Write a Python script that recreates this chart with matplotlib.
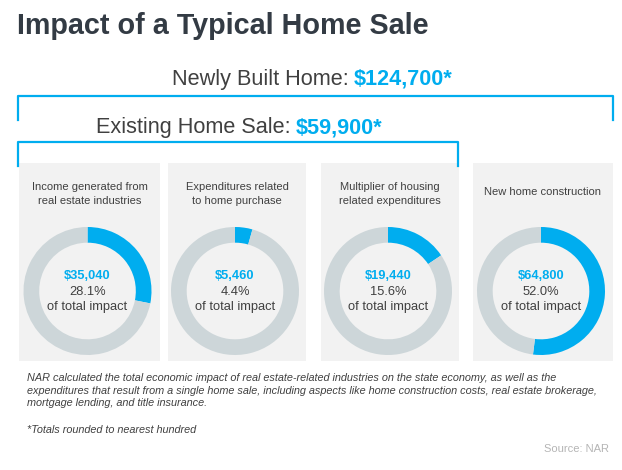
import matplotlib
matplotlib.use("Agg")
import matplotlib.pyplot as plt
from matplotlib.patches import Rectangle

plt.rcParams['font.family'] = ['Liberation Sans', 'DejaVu Sans']

# data
panel_titles = ["Income generated from\nreal estate industries",
                "Expenditures related\nto home purchase",
                "Multiplier of housing\nrelated expenditures",
                "New home construction"]
amounts = ["$35,040", "$5,460", "$19,440", "$64,800"]
shares = [28.1, 4.4, 15.6, 52.0]
newly_built_total = "$124,700*"
existing_total = "$59,900*"

BLUE = "#00adef"
GRAY_RING = "#cdd6d9"
PANEL = "#f2f2f2"
DARK = "#333b44"
TXT = "#404040"

W, H = 622, 470
fig = plt.figure(figsize=(W / 100, H / 100), dpi=100)
bg = fig.add_axes([0, 0, 1, 1])
bg.set_xlim(0, W)
bg.set_ylim(H, 0)
bg.axis("off")

# title
bg.text(17, 26, "Impact of a Typical Home Sale", fontsize=20.7, fontweight="bold",
        color=DARK, va="center", ha="left")

# headline totals (two-colour text)
def two_tone(x, y, left, right, size):
    t = bg.text(x, y, left, fontsize=size, color=TXT, va="center", ha="left")
    fig.canvas.draw()
    bb = t.get_window_extent()
    x1 = bg.transData.inverted().transform((bb.x1, bb.y0))[0]
    bg.text(x1 + 5, y, right, fontsize=size, color=BLUE, fontweight="bold",
            va="center", ha="left")

two_tone(172, 79, "Newly Built Home:", newly_built_total, 15.6)
two_tone(96, 128, "Existing Home Sale:", existing_total, 15.6)

# brackets
bg.plot([18, 18, 613, 613], [120, 96, 96, 120], color=BLUE, lw=1.6,
        solid_joinstyle="round")
bg.plot([18, 18, 458, 458], [166, 142, 142, 166], color=BLUE, lw=1.6,
        solid_joinstyle="round")

# panels
panels = [(19, 160), (168, 306), (321, 459), (473, 613)]
for (x0, x1), title in zip(panels, panel_titles):
    bg.add_patch(Rectangle((x0, 163), x1 - x0, 198, color=PANEL, lw=0, zorder=0))
    ty = 194 if "\n" in title else 192
    bg.text((x0 + x1) / 2, ty, title, fontsize=8, color=TXT, ha="center",
            va="center", linespacing=1.45)

# donuts
R = 64
cy = 291
for (x0, x1), amt, pct in zip(panels, amounts, shares):
    cx = (x0 + x1) / 2 - 2
    ax = fig.add_axes([(cx - R) / W, 1 - (cy + R) / H, 2 * R / W, 2 * R / H])
    ax.pie([pct, 100 - pct], colors=[BLUE, GRAY_RING], startangle=90,
           counterclock=False, radius=1,
           wedgeprops=dict(width=0.245, linewidth=0))
    ax.set_xlim(-1, 1)
    ax.set_ylim(-1, 1)
    ax.set_aspect("equal")
    ax.axis("off")
    ax.text(0, 0.23, amt, fontsize=9.3, color=BLUE, fontweight="bold",
            ha="center", va="center")
    ax.text(0, -0.02, f"{pct:.1f}%", fontsize=9.3, color=TXT,
            ha="center", va="center")
    ax.text(0, -0.25, "of total impact", fontsize=9.3, color=TXT,
            ha="center", va="center")

# footnotes
note = ("NAR calculated the total economic impact of real estate-related industries on the state economy, as well as the\n"
        "expenditures that result from a single home sale, including aspects like home construction costs, real estate brokerage,\n"
        "mortgage lending, and title insurance.")
bg.text(27, 373, note, fontsize=7.85, style="italic", color=TXT, ha="left",
        va="top", linespacing=1.32)
bg.text(27, 430, "*Totals rounded to nearest hundred", fontsize=7.85,
        style="italic", color=TXT, ha="left", va="center")
bg.text(609, 449, "Source: NAR", fontsize=8, color="#b5b5b5", ha="right",
        va="center")

fig.savefig("out.png", dpi=100)
